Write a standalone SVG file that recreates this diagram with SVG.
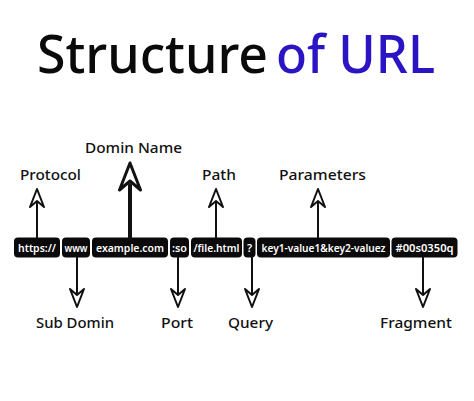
<svg xmlns="http://www.w3.org/2000/svg" width="474" height="401" viewBox="0 0 474 401">
<defs>
<style>
.title{font-family:"Noto Sans","Liberation Sans",sans-serif;font-weight:500;font-size:52px}
.lbl{font-family:"Noto Sans","Liberation Sans",sans-serif;font-weight:500;font-size:15px;fill:#111}
.seg{fill:#0a0a0a}
.segt{font-family:"Noto Sans","Liberation Sans",sans-serif;font-weight:600;font-size:11px;fill:#fff;text-anchor:middle}
.shaft{stroke:#111;stroke-width:2;fill:none;stroke-linecap:round}
.head{fill:#fff;stroke:#111;stroke-width:2;stroke-linejoin:round}
</style>
<path id="h" class="head" d="M-7,18 L0,0 L7,18 L0,12 Z"/>
</defs>
<rect width="474" height="401" fill="#fff"/>
<text class="title" x="37" y="73" fill="#0a0a0a" textLength="231" lengthAdjust="spacingAndGlyphs">Structure</text>
<text class="title" x="276" y="73" fill="#2a14c4" textLength="159" lengthAdjust="spacingAndGlyphs">of URL</text>

<g id="url-bar">
<g id="seg-protocol"><rect class="seg" x="14" y="237.5" width="46" height="20" rx="4"/><text class="segt" x="37" y="251.5" textLength="38" lengthAdjust="spacingAndGlyphs">https://</text></g>
<g id="seg-www"><rect class="seg" x="62" y="237.5" width="28" height="20" rx="4"/><text class="segt" x="76" y="251.5" textLength="23" lengthAdjust="spacingAndGlyphs">www</text></g>
<g id="seg-domain"><rect class="seg" x="92" y="237.5" width="76" height="20" rx="4"/><text class="segt" x="130" y="251.5" textLength="68" lengthAdjust="spacingAndGlyphs">example.com</text></g>
<g id="seg-port"><rect class="seg" x="170" y="237.5" width="19" height="20" rx="4"/><text class="segt" x="179.5" y="251.5" textLength="15" lengthAdjust="spacingAndGlyphs">:so</text></g>
<g id="seg-path"><rect class="seg" x="191" y="237.5" width="51" height="20" rx="4"/><text class="segt" x="216.5" y="251.5" textLength="46" lengthAdjust="spacingAndGlyphs">/file.html</text></g>
<g id="seg-query"><rect class="seg" x="243.5" y="237.5" width="12" height="20" rx="4"/><text class="segt" x="249.5" y="251.5">?</text></g>
<g id="seg-params"><rect class="seg" x="257" y="237.5" width="133" height="20" rx="4"/><text class="segt" x="323.5" y="251.5" textLength="124" lengthAdjust="spacingAndGlyphs">key1-value1&amp;key2-valuez</text></g>
<g id="seg-fragment"><rect class="seg" x="391.5" y="237.5" width="66" height="20" rx="4"/><text class="segt" x="424.5" y="251.5" textLength="58" lengthAdjust="spacingAndGlyphs">#00s0350q</text></g>
</g>

<g id="connectors">
<line class="shaft" x1="37" y1="238" x2="37" y2="201"/><use href="#h" transform="translate(37,189)"/>
<line class="shaft" x1="130" y1="238" x2="130" y2="185" style="stroke-width:4"/><use href="#h" transform="translate(130,163) scale(1.5)" style="stroke-width:1.9"/>
<line class="shaft" x1="216" y1="238" x2="216" y2="201"/><use href="#h" transform="translate(216,189)"/>
<line class="shaft" x1="318" y1="238" x2="318" y2="201"/><use href="#h" transform="translate(318,189)"/>
<line class="shaft" x1="77" y1="257" x2="77" y2="295"/><use href="#h" transform="translate(77,307) rotate(180)"/>
<line class="shaft" x1="178" y1="257" x2="178" y2="295"/><use href="#h" transform="translate(178,307) rotate(180)"/>
<line class="shaft" x1="252" y1="257" x2="252" y2="295"/><use href="#h" transform="translate(252,307) rotate(180)"/>
<line class="shaft" x1="423" y1="257" x2="423" y2="295"/><use href="#h" transform="translate(423,307) rotate(180)"/>
</g>

<g id="label-protocol"><text class="lbl" x="20" y="180" textLength="61" lengthAdjust="spacingAndGlyphs">Protocol</text></g>
<g id="label-domain"><text class="lbl" x="85" y="153" textLength="97" lengthAdjust="spacingAndGlyphs">Domin Name</text></g>
<g id="label-path"><text class="lbl" x="202" y="180" textLength="34" lengthAdjust="spacingAndGlyphs">Path</text></g>
<g id="label-params"><text class="lbl" x="279" y="180" textLength="87" lengthAdjust="spacingAndGlyphs">Parameters</text></g>
<g id="label-subdomain"><text class="lbl" x="36" y="328" textLength="78" lengthAdjust="spacingAndGlyphs">Sub Domin</text></g>
<g id="label-port"><text class="lbl" x="161" y="328" textLength="32" lengthAdjust="spacingAndGlyphs">Port</text></g>
<g id="label-query"><text class="lbl" x="228" y="328" textLength="45" lengthAdjust="spacingAndGlyphs">Query</text></g>
<g id="label-fragment"><text class="lbl" x="380" y="328" textLength="72" lengthAdjust="spacingAndGlyphs">Fragment</text></g>
</svg>
